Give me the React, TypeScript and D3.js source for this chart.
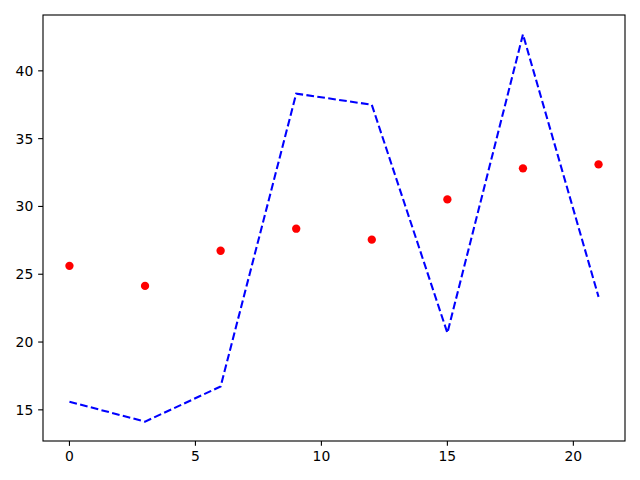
import React from "react";
import * as d3 from "d3";

const xValues = [0, 3, 6, 9, 12, 15, 18, 21];
const lineValues = [15.6, 14.13, 16.72, 38.32, 37.5, 20.67, 42.69, 23.33];
const pointValues = [25.62, 24.14, 26.73, 28.36, 27.55, 30.52, 32.81, 33.1];
const xTicks = [0, 5, 10, 15, 20];
const yTicks = [15, 20, 25, 30, 35, 40];

const W = 640;
const H = 480;
const left = 43;
const right = 625;
const top = 15;
const bottom = 441;

export default function App() {
  const xMin = d3.min(xValues)!;
  const xMax = d3.max(xValues)!;
  const xPad = (xMax - xMin) * 0.05;
  const allY = [...lineValues, ...pointValues];
  const yMin = d3.min(allY)!;
  const yMax = d3.max(allY)!;
  const yPad = (yMax - yMin) * 0.05;

  const x = d3.scaleLinear().domain([xMin - xPad, xMax + xPad]).range([left, right]);
  const y = d3.scaleLinear().domain([yMin - yPad, yMax + yPad]).range([bottom, top]);

  const line = d3
    .line<number>()
    .x((_, i) => x(xValues[i]))
    .y((d) => y(d));

  const font = "DejaVu Sans, sans-serif";
  const fs = 13.9;

  return (
    <svg
      width={W}
      height={H}
      style={{ position: "absolute", left: 0, top: 0, background: "#fff" }}
    >
      <rect x={0} y={0} width={W} height={H} fill="#fff" />
      <path
        d={line(lineValues)!}
        fill="none"
        stroke="#0000ff"
        strokeWidth={2.08}
        strokeDasharray="7.7,3.33"
      />
      {pointValues.map((v, i) => (
        <circle key={i} cx={x(xValues[i])} cy={y(v)} r={4.17} fill="#ff0000" />
      ))}
      <rect
        x={left}
        y={top}
        width={right - left}
        height={bottom - top}
        fill="none"
        stroke="#000"
        strokeWidth={1.11}
      />
      {xTicks.map((t) => (
        <g key={"x" + t}>
          <line x1={x(t)} x2={x(t)} y1={bottom} y2={bottom + 4.86} stroke="#000" strokeWidth={1.11} />
          <text
            x={x(t)}
            y={bottom + 4.86 + 4.86 + fs * 0.76}
            textAnchor="middle"
            fontFamily={font}
            fontSize={fs}
            fill="#000"
          >
            {t}
          </text>
        </g>
      ))}
      {yTicks.map((t) => (
        <g key={"y" + t}>
          <line x1={left - 4.86} x2={left} y1={y(t)} y2={y(t)} stroke="#000" strokeWidth={1.11} />
          <text
            x={left - 4.86 - 4.86}
            y={y(t)}
            dy="0.36em"
            textAnchor="end"
            fontFamily={font}
            fontSize={fs}
            fill="#000"
          >
            {t}
          </text>
        </g>
      ))}
    </svg>
  );
}
